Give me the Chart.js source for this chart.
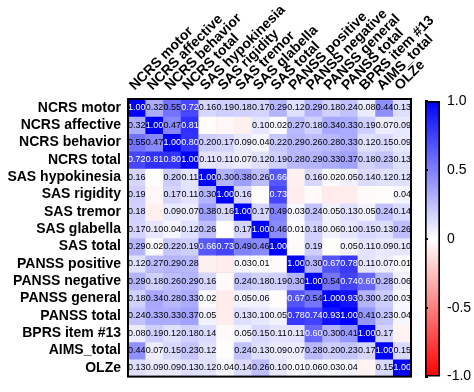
<!DOCTYPE html>
<html><head><meta charset="utf-8">
<script src="https://cdn.jsdelivr.net/npm/chart.js@4.4.1/dist/chart.umd.min.js"></script>
<style>
html,body{margin:0;padding:0;background:#fff;}
#wrap{position:relative;width:474px;height:392px;overflow:hidden;}
#main{position:absolute;left:0;top:0;}
#cb{position:absolute;left:425px;top:0;}
</style></head>
<body><div id="wrap"><canvas id="main" width="474" height="392"></canvas><canvas id="cb" width="49" height="392"></canvas></div>
<script>
const varNames = ['NCRS motor','NCRS affective','NCRS behavior','NCRS total','SAS hypokinesia','SAS rigidity','SAS tremor','SAS glabella','SAS total','PANSS positive','PANSS negative','PANSS general','PANSS total','BPRS item #13','AIMS_total','OLZe'];

const ncrsMotor    = [1.00,0.32,0.55,0.72,0.16,0.19,0.18,0.17,0.29,0.12,0.29,0.18,0.24,0.08,0.44,0.13];
const ncrsAffective= [0.32,1.00,0.47,0.81,-0.01,-0.03,-0.06,0.10,0.02,0.27,0.18,0.34,0.33,0.19,0.07,0.09];
const ncrsBehavior = [0.55,0.47,1.00,0.80,0.20,0.17,0.09,0.04,0.22,0.29,0.26,0.28,0.33,0.12,0.15,0.09];
const ncrsTotal    = [0.72,0.81,0.80,1.00,0.11,0.11,0.07,0.12,0.19,0.28,0.29,0.33,0.37,0.18,0.23,0.13];
const sasHypo      = [0.16,-0.01,0.20,0.11,1.00,0.30,0.38,0.26,0.66,-0.06,0.16,0.02,0.05,0.14,0.12,0.12];
const sasRigidity  = [0.19,-0.03,0.17,0.11,0.30,1.00,0.16,-0.01,0.73,-0.07,-0.02,-0.08,-0.07,-0.02,-0.01,0.04];
const sasTremor    = [0.18,-0.06,0.09,0.07,0.38,0.16,1.00,0.17,0.49,0.03,0.24,0.05,0.13,0.05,0.24,0.14];
const sasGlabella  = [0.17,0.10,0.04,0.12,0.26,-0.01,0.17,1.00,0.46,0.01,0.18,0.06,0.10,0.15,0.13,0.26];
const sasTotal     = [0.29,0.02,0.22,0.19,0.66,0.73,0.49,0.46,1.00,-0.02,0.19,-0.01,0.05,0.11,0.09,0.10];
const panssPos     = [0.12,0.27,0.29,0.28,-0.06,-0.07,0.03,0.01,-0.02,1.00,0.30,0.67,0.78,0.11,0.07,0.01];
const panssNeg     = [0.29,0.18,0.26,0.29,0.16,-0.02,0.24,0.18,0.19,0.30,1.00,0.54,0.74,0.60,0.28,0.06];
const panssGen     = [0.18,0.34,0.28,0.33,0.02,-0.08,0.05,0.06,-0.01,0.67,0.54,1.00,0.93,0.30,0.20,0.03];
const panssTotal   = [0.24,0.33,0.33,0.37,0.05,-0.07,0.13,0.10,0.05,0.78,0.74,0.93,1.00,0.41,0.23,0.04];
const bprs13       = [0.08,0.19,0.12,0.18,0.14,-0.02,0.05,0.15,0.11,0.11,0.60,0.30,0.41,1.00,0.17,-0.05];
const aimsTotal    = [0.44,0.07,0.15,0.23,0.12,-0.01,0.24,0.13,0.09,0.07,0.28,0.20,0.23,0.17,1.00,0.15];
const olze         = [0.13,0.09,0.09,0.13,0.12,0.04,0.14,0.26,0.10,0.01,0.06,0.03,0.04,-0.05,0.15,1.00];

const matrix = [ncrsMotor,ncrsAffective,ncrsBehavior,ncrsTotal,sasHypo,sasRigidity,sasTremor,sasGlabella,sasTotal,panssPos,panssNeg,panssGen,panssTotal,bprs13,aimsTotal,olze];

const cbTicks = [-1, -0.5, 0, 0.5, 1];
const cbTickLabels = ['-1.0','-0.5','0','0.5','1.0'];

Chart.defaults.font.family = "'Liberation Sans', Arial, sans-serif";
Chart.defaults.color = '#000';

function colorFor(v){
  if (v >= 0) { const c = Math.round(255*(1-v)); return `rgb(${c},${c},255)`; }
  const c = Math.round(255*(1+v)); return `rgb(255,${c},${c})`;
}

const datasets = matrix.map((row, i) => ({
  data: row.map(() => [i, i + 1]),
  backgroundColor: row.map(v => colorFor(v)),
  borderWidth: 0,
  grouped: false,
  barPercentage: 1,
  categoryPercentage: 1,
  xAxisID: 'x',
  yAxisID: 'y'
}));

const cellText = {
  id: 'cellText',
  afterDraw(chart) {
    const {ctx, chartArea} = chart;
    const xs = chart.scales.x, ys = chart.scales.y;
    ctx.save();
    ctx.font = "9px 'Liberation Sans', Arial, sans-serif";
    ctx.textAlign = 'center';
    ctx.textBaseline = 'middle';
    matrix.forEach((row, i) => {
      row.forEach((v, j) => {
        if (v < 0) return;
        ctx.fillStyle = v >= 0.57 ? '#fff' : '#000';
        ctx.fillText(v.toFixed(2), xs.getPixelForValue(j), ys.getPixelForValue(i + 0.5));
      });
    });
    ctx.lineWidth = 2;
    ctx.strokeStyle = '#000';
    ctx.strokeRect(chartArea.left, chartArea.top, chartArea.right - chartArea.left, chartArea.bottom - chartArea.top);
    ctx.restore();
  }
};

const cbMarks = {
  id: 'cbMarks',
  afterDraw(chart) {
    const {ctx, chartArea} = chart;
    const ys = chart.scales.y;
    ctx.save();
    ctx.strokeStyle = '#000';
    ctx.lineWidth = 2;
    cbTicks.forEach(v => {
      const y = Math.round(ys.getPixelForValue(v));
      ctx.beginPath();
      ctx.moveTo(chartArea.left, y);
      ctx.lineTo(chartArea.left + 3, y);
      ctx.stroke();
    });
    ctx.restore();
  }
};

const labelFont = {size: 14, weight: 'bold'};

new Chart(document.getElementById('main'), {
  type: 'bar',
  data: {labels: varNames, datasets},
  options: {
    responsive: false,
    animation: false,
    layout: {padding: {left: 0, top: 0, right: 63, bottom: 10}},
    plugins: {legend: {display: false}, tooltip: {enabled: false}},
    scales: {
      x: {
        type: 'category', position: 'top', offset: true, z: 1,
        grid: {offset: true, color: '#444', lineWidth: 1, drawTicks: false},
        border: {display: true, color: '#000', width: 2},
        ticks: {minRotation: 45, maxRotation: 45, autoSkip: false, padding: 5, labelOffset: 7, color: '#000', font: labelFont},
        afterFit: s => { s.height = 99; }
      },
      y: {type: 'linear', min: 0, max: 16, reverse: true, display: false},
      yl: {
        type: 'category', labels: varNames, position: 'left', offset: true, z: 1,
        grid: {offset: true, color: '#444', lineWidth: 1, drawTicks: false},
        border: {display: true, color: '#000', width: 2},
        ticks: {autoSkip: false, padding: 7, color: '#000', font: labelFont},
        afterFit: s => { s.width = 128; }
      }
    }
  },
  plugins: [cellText]
});

new Chart(document.getElementById('cb'), {
  type: 'bar',
  data: {labels: [''], datasets: [{
    data: [[cbTicks[0], cbTicks[cbTicks.length - 1]]],
    backgroundColor: ctx => {
      const ca = ctx.chart.chartArea;
      if (!ca) return '#fff';
      const g = ctx.chart.ctx.createLinearGradient(0, ca.bottom, 0, ca.top);
      g.addColorStop(0, colorFor(-1));
      g.addColorStop(0.5, colorFor(0));
      g.addColorStop(1, colorFor(1));
      return g;
    },
    borderColor: '#000', borderWidth: 2, borderSkipped: false,
    barPercentage: 1, categoryPercentage: 1
  }]},
  options: {
    responsive: false,
    animation: false,
    layout: {padding: {left: 0, top: 101, right: 0, bottom: 9}},
    plugins: {legend: {display: false}, tooltip: {enabled: false}},
    scales: {
      x: {display: false},
      y: {
        position: 'right', min: -1, max: 1,
        afterBuildTicks: s => { s.ticks = cbTicks.map(v => ({value: v})); },
        ticks: {padding: 7, color: '#000', font: {size: 14},
          callback: v => cbTickLabels[cbTicks.indexOf(v)]},
        grid: {display: false, drawTicks: false}, border: {display: false},
        afterFit: s => { s.width = 34; }
      }
    }
  },
  plugins: [cbMarks]
});
</script>
</body></html>
